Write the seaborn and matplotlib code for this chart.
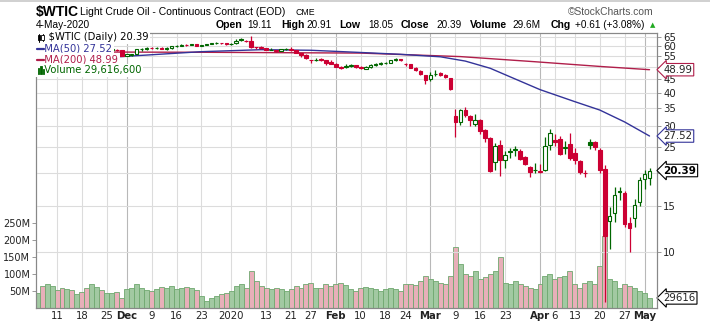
import numpy as np
import pandas as pd
import matplotlib
matplotlib.use("Agg")
import matplotlib.pyplot as plt
import seaborn as sns
from matplotlib.ticker import FixedLocator, FixedFormatter, NullLocator
from matplotlib.lines import Line2D
from matplotlib.patches import Rectangle

# ---------------- data ----------------
holidays = ["2019-11-28", "2019-12-25", "2020-01-01", "2020-01-20", "2020-02-17", "2020-04-10"]
dates = pd.bdate_range("2019-11-05", "2020-05-04")
dates = dates[~dates.isin(pd.to_datetime(holidays))]

opens = [56.55, 57.10, 56.30, 57.05, 57.19, 56.81, 56.76, 57.13, 56.85, 57.77,
         57.03, 55.35, 57.05, 58.54, 57.77, 58.05, 58.35, 58.25, 55.31, 55.88,
         56.20, 58.51, 58.40, 59.15, 59.04, 59.15, 58.68, 59.25, 60.11, 60.25,
         60.95, 60.93, 61.19, 60.45, 60.56, 61.24, 61.69, 61.84, 61.72, 61.18,
         61.60, 63.71, 62.91, 62.84, 59.72, 59.68, 59.00, 58.24, 58.20, 57.79,
         58.52, 58.83, 58.04, 56.55, 55.56, 53.35, 53.10, 53.58, 53.25, 52.20,
         51.46, 50.20, 49.94, 50.75, 50.87, 50.26, 49.45, 49.99, 51.10, 51.50,
         52.14, 52.10, 53.48, 53.69, 51.52, 51.50, 49.88, 48.36, 46.80, 45.28,
         47.19, 47.55, 46.82, 45.51, 32.87, 31.13, 34.50, 32.85, 30.57, 31.70,
         28.88, 27.09, 21.95, 25.43, 22.35, 24.10, 24.35, 24.12, 22.90, 21.04,
         20.51, 20.20, 20.44, 25.47, 26.62, 26.78, 24.75, 25.65, 23.76, 22.07,
         20.01, 26.10, 26.20, 24.40, 20.70, 13.10, 14.10, 17.10, 16.80, 12.90,
         13.50, 15.50, 18.90, 19.11]
highs = [57.88, 57.29, 57.70, 57.40, 57.24, 57.48, 57.31, 57.58, 57.89, 57.98,
         57.20, 57.37, 58.71, 58.78, 58.33, 58.62, 58.74, 58.30, 56.23, 56.31,
         58.76, 59.00, 59.85, 59.45, 59.43, 59.60, 59.57, 60.29, 60.57, 61.02,
         61.11, 61.44, 61.20, 60.73, 61.30, 61.82, 62.34, 62.01, 61.89, 61.60,
         64.09, 64.72, 63.15, 65.65, 59.84, 59.98, 59.10, 58.91, 58.36, 58.54,
         59.07, 59.74, 58.19, 56.73, 55.96, 53.51, 54.08, 54.12, 53.32, 53.18,
         51.98, 50.65, 51.40, 51.27, 51.13, 50.46, 50.59, 51.35, 51.80, 52.22,
         52.45, 53.48, 54.10, 53.80, 52.02, 51.69, 50.14, 48.66, 46.80, 47.87,
         48.66, 48.07, 47.14, 45.62, 34.88, 34.88, 35.29, 33.18, 33.33, 32.01,
         29.22, 27.17, 26.00, 26.58, 24.15, 24.85, 25.24, 24.55, 23.13, 21.15,
         21.70, 21.64, 27.39, 29.13, 27.98, 27.62, 26.45, 28.36, 24.74, 22.32,
         20.45, 26.90, 26.30, 24.90, 21.30, 14.90, 17.70, 17.60, 17.00, 13.60,
         15.90, 19.30, 20.40, 20.91]
lows = [56.30, 56.04, 55.80, 56.03, 56.20, 56.31, 56.32, 56.55, 56.66, 56.85,
        54.98, 55.20, 56.90, 57.50, 57.45, 57.70, 57.80, 55.00, 55.00, 55.05,
        56.10, 57.76, 58.05, 58.64, 58.55, 58.57, 58.39, 58.81, 59.86, 60.10,
        60.12, 60.62, 60.33, 60.20, 60.53, 61.10, 61.40, 61.47, 60.63, 60.73,
        61.13, 62.95, 62.34, 59.19, 58.71, 58.67, 57.92, 58.02, 57.36, 57.71,
        58.30, 57.84, 56.66, 54.80, 53.60, 52.13, 52.84, 52.93, 50.91, 51.32,
        49.95, 49.31, 49.87, 50.24, 49.92, 49.44, 49.31, 49.80, 50.57, 51.02,
        51.44, 51.90, 52.73, 52.66, 50.60, 49.69, 48.41, 46.75, 43.32, 44.28,
        46.20, 46.36, 45.52, 41.05, 27.34, 30.30, 32.46, 30.02, 30.04, 28.03,
        26.08, 20.06, 20.52, 19.46, 20.80, 22.71, 23.23, 22.40, 21.38, 19.27,
        19.90, 19.90, 20.25, 24.38, 25.28, 23.36, 23.59, 22.33, 21.62, 19.80,
        19.20, 24.60, 24.30, 20.00, 6.50, 10.30, 13.00, 15.80, 12.50, 10.07,
        12.50, 15.00, 17.30, 18.05]
closes = [57.23, 56.35, 57.15, 57.24, 56.86, 56.80, 57.12, 56.77, 57.72, 57.05,
          55.21, 57.11, 58.58, 57.77, 58.01, 58.41, 58.11, 55.17, 55.96, 56.10,
          58.43, 58.43, 59.20, 59.02, 59.24, 58.76, 59.18, 60.07, 60.21, 60.94,
          60.93, 61.22, 60.44, 60.52, 61.11, 61.68, 61.72, 61.68, 61.06, 61.18,
          63.05, 63.27, 62.70, 59.61, 59.56, 59.04, 58.08, 58.23, 57.81, 58.52,
          58.54, 58.34, 56.74, 55.59, 54.19, 53.14, 53.48, 53.33, 52.14, 51.56,
          50.11, 49.61, 50.75, 50.95, 50.32, 49.57, 49.94, 51.17, 51.42, 52.05,
          52.05, 53.29, 53.78, 53.38, 51.43, 49.90, 48.73, 47.09, 44.76, 46.75,
          47.18, 46.78, 45.90, 41.28, 31.13, 34.36, 32.98, 31.50, 31.73, 28.70,
          26.95, 20.37, 25.22, 22.43, 23.36, 24.01, 24.49, 22.60, 21.51, 20.09,
          20.48, 20.31, 25.32, 28.34, 26.08, 23.63, 25.09, 22.76, 22.41, 20.11,
          19.87, 25.53, 25.03, 20.43, 11.57, 13.78, 16.50, 16.94, 12.78, 12.34,
          15.06, 18.84, 19.78, 20.39]
volumes_m = [45, 64, 70, 64, 52, 60, 57, 52, 40, 46, 58, 70, 61, 52, 45, 45, 48, 30,
             55, 60, 70, 58, 52, 50, 55, 62, 60, 65, 55, 58, 62, 60, 52, 35, 20, 30, 35, 40, 45,
             50, 65, 70, 60, 110, 80, 65, 60, 55, 60, 55, 50, 55, 65, 60, 70, 75, 60, 58, 72, 65,
             70, 75, 68, 55, 50, 58, 62, 60, 55, 50, 55, 58, 55, 50, 72, 70, 68, 80, 95,
             85, 80, 75, 70, 95, 180, 130, 100, 95, 110, 85, 90, 100, 110, 150, 75, 70, 80, 70, 65, 60, 55,
             70, 95, 100, 85, 90, 95, 110, 70, 60, 75, 80, 70, 125, 212, 85, 80, 60, 70, 65, 60, 50, 45, 29.6]

ma50_idx = [0, 17, 33, 45, 55, 65, 73, 81, 86, 91, 96, 101, 108, 113, 118, 123]
ma50_val = [53.5, 54.9, 57.3, 58.3, 58.0, 56.9, 56.0, 54.8, 52.8, 49.6, 45.2, 41.2, 37.1, 34.5, 31.1, 27.52]
ma200_idx = [0, 33, 65, 85, 100, 113, 123]
ma200_val = [57.2, 57.0, 56.6, 54.9, 52.5, 50.4, 48.99]

tick_dates = ["2019-11-11", "2019-11-18", "2019-11-25", "2019-12-02", "2019-12-09", "2019-12-16",
              "2019-12-23", "2020-01-02", "2020-01-13", "2020-01-21", "2020-01-27", "2020-02-03",
              "2020-02-10", "2020-02-18", "2020-02-24", "2020-03-02", "2020-03-09", "2020-03-16",
              "2020-03-23", "2020-04-01", "2020-04-06", "2020-04-13", "2020-04-20", "2020-04-27",
              "2020-05-01"]
tick_labels = ["11", "18", "25", "Dec", "9", "16", "23", "2020", "13", "21", "27", "Feb",
               "10", "18", "24", "Mar", "9", "16", "23", "Apr", "6", "13", "20", "27", "May"]
price_ticks = [10, 15, 20, 25, 30, 35, 40, 45, 50, 55, 60, 65]
price_tick_labels = ["10", "15", "", "25", "30", "35", "40", "45", "", "55", "60", "65"]
vol_ticks = [50, 100, 150, 200, 250]
vol_tick_labels = ["50M", "100M", "150M", "200M", "250M"]

# ---------------- style ----------------
sns.set_theme(style="white")
plt.rcParams['font.family'] = ['DejaVu Sans']

RED = "#cc0033"
GREEN = "#006600"
BLUE = "#333399"
MA200C = "#b01e4a"
VGREEN, VGREEN_E = "#9ccf9c", "#6fa86f"
VPINK, VPINK_E = "#f2a5b3", "#d9808f"
GRID = "#dcdcdc"
GRID_M = "#b8b8b8"

W, H = 710, 324
fig = plt.figure(figsize=(W / 100, H / 100), dpi=100)
L, R, T, B = 36, 657, 33, 308
axv = fig.add_axes([L / W, 1 - B / H, (R - L) / W, (B - T) / H])
ax = axv.twinx()
ax.set_zorder(axv.get_zorder() + 1)
ax.patch.set_visible(False)
axv.set_facecolor("white")

n = len(closes)
x = np.arange(n)
df = pd.DataFrame({"i": x, "open": opens, "high": highs, "low": lows,
                   "close": closes, "vol": volumes_m})
prev = df["close"].shift(1).fillna(df["close"].iloc[0] - 0.1)
df["dir"] = np.where(df["close"] >= prev, "up", "down")

xlo, xhi = -0.22, 124.5
tick_idx = [int(np.where(dates == pd.Timestamp(d))[0][0]) for d in tick_dates]

# vertical grid lines (beneath everything)
for ti, lab in zip(tick_idx, tick_labels):
    month = not lab.isdigit()
    axv.axvline(ti, color=GRID_M if month else GRID, lw=0.8, zorder=0)

# volume bars
sns.barplot(data=df, x="i", y="vol", hue="dir", palette={"up": VGREEN, "down": VPINK},
            native_scale=True, width=1.0, dodge=False, legend=False, ax=axv,
            linewidth=0.6, edgecolor=VGREEN_E, zorder=2)
for p in axv.patches:
    fc = matplotlib.colors.to_hex(p.get_facecolor())
    p.set_edgecolor(VPINK_E if fc == VPINK else VGREEN_E)
axv.set_ylim(0, 809)
axv.set_xlim(xlo, xhi)
axv.yaxis.tick_left()
axv.yaxis.set_major_locator(FixedLocator(vol_ticks))
axv.yaxis.set_major_formatter(FixedFormatter(vol_tick_labels))
axv.tick_params(axis="y", which="both", left=True, length=3, width=0.6, color="#888888",
                labelsize=7, pad=1, labelcolor="#222222")
axv.set_xticks(tick_idx)
axv.set_xticklabels(tick_labels)
for t, lab in zip(axv.get_xticklabels(), tick_labels):
    if not lab.isdigit():
        t.set_fontweight("bold")
axv.tick_params(axis="x", length=0, labelsize=7.3, pad=2, labelcolor="#222222")
axv.set_xlabel("")
axv.set_ylabel("")

# price axis (log)
ax.set_yscale("log")
ax.set_ylim(6.17, 67.4)
ax.set_xlim(xlo, xhi)
for p in price_ticks:
    ax.axhline(p, color=GRID, lw=0.8, zorder=0)

# MA lines
sns.lineplot(x=ma200_idx, y=ma200_val, ax=ax, color=MA200C, lw=1.0, zorder=3)
sns.lineplot(x=ma50_idx, y=ma50_val, ax=ax, color=BLUE, lw=1.0, zorder=3)

# candlesticks
for i, r in df.iterrows():
    col = GREEN if r["dir"] == "up" else RED
    filled = r["close"] < r["open"]
    ax.vlines(i, r["low"], r["high"], color=col, lw=0.9, zorder=4)
    lo_b, hi_b = min(r["open"], r["close"]), max(r["open"], r["close"])
    ax.bar(i, hi_b - lo_b, bottom=lo_b, width=0.72, facecolor=col if filled else "white",
           edgecolor=col, linewidth=0.8, zorder=5)

ax.yaxis.tick_right()
ax.yaxis.set_major_locator(FixedLocator(price_ticks))
ax.yaxis.set_major_formatter(FixedFormatter(price_tick_labels))
ax.yaxis.set_minor_locator(NullLocator())
ax.tick_params(axis="y", which="major", right=True, length=3, width=0.6, color="#888888",
               labelsize=7.3, pad=1.5, labelcolor="#222222")
ax.set_ylabel("")
for a in (ax, axv):
    for s in a.spines.values():
        s.set_color("#888888")
        s.set_linewidth(0.8)

# value flags on the right
ytr = ax.get_yaxis_transform()
fx = 1.0105
ax.text(fx, ma200_val[-1], f"{ma200_val[-1]:.2f}", transform=ytr, va="center", ha="left", fontsize=7.3,
        color="#222222", bbox=dict(boxstyle="larrow,pad=0.12", fc="white", ec=MA200C, lw=0.8), zorder=10,
        clip_on=False)
ax.text(fx, ma50_val[-1], f"{ma50_val[-1]:.2f}", transform=ytr, va="center", ha="left", fontsize=7.3,
        color="#222222", bbox=dict(boxstyle="larrow,pad=0.12", fc="white", ec=BLUE, lw=0.8), zorder=10,
        clip_on=False)
ax.text(fx, closes[-1], f"{closes[-1]:.2f}", transform=ytr, va="center", ha="left", fontsize=7.5,
        fontweight="bold", color="black",
        bbox=dict(boxstyle="larrow,pad=0.12", fc="white", ec="black", lw=0.8), zorder=10, clip_on=False)
axv.text(fx, volumes_m[-1], "29616", transform=axv.get_yaxis_transform(), va="center", ha="left",
         fontsize=7.3, color="#222222",
         bbox=dict(boxstyle="larrow,pad=0.12", fc="white", ec="black", lw=0.8), zorder=10, clip_on=False)

# ---------------- header texts ----------------
def ftxt(px, py, s, **kw):
    fig.text(px / W, 1 - py / H, s, va="center", ha="left", **kw)

HF = ["Liberation Sans", "DejaVu Sans"]
ftxt(36, 12, "$WTIC", fontsize=10, fontweight="bold", family=HF, color="black")
ftxt(80, 12, "Light Crude Oil - Continuous Contract (EOD)", fontsize=7.5, family=HF, color="black")
ftxt(296, 12.5, "CME", fontsize=6.3, family=HF, color="black")
ftxt(568, 12, "\u00a9StockCharts.com", fontsize=7.4, family=HF, color="#555555")
ftxt(36, 25, "4-May-2020", fontsize=7.3, family=HF, color="black")
hdr = [(216, "Open", True), (247, "19.11", False), (281, "High", True), (306, "20.91", False),
       (339, "Low", True), (368, "18.05", False), (401, "Close", True), (436, "20.39", False),
       (470, "Volume", True), (512, "29.6M", False), (551, "Chg", True), (575, "+0.61 (+3.08%)", False)]
for px, s, b in hdr:
    ftxt(px, 25, s, fontsize=7.6 if b else 7.2, fontweight="bold" if b else "normal", family=HF,
         color="black")
ftxt(650, 25.5, "\u25b2", fontsize=5, color="#22aa22", family=["DejaVu Sans"])

# ---------------- in-chart legend ----------------
LF = 7.2
bb = dict(boxstyle="square,pad=0.12", fc="white", ec="none")
ftxt(36.5, 37.5, "    $WTIC (Daily) 20.39", fontsize=LF, color="black", bbox=bb, zorder=20)
ftxt(36.5, 48.5, "  \u2009MA(50) 27.52", fontsize=LF, color=BLUE, bbox=bb, zorder=20)
ftxt(36.5, 59.5, "  \u2009MA(200) 48.99", fontsize=LF, color=MA200C, bbox=bb, zorder=20)
ftxt(36.5, 70.5, "  \u2009Volume 29,616,600", fontsize=LF, color=GREEN, bbox=bb, zorder=20)

def fline(x0, y0, x1, y1, c, lw):
    fig.add_artist(Line2D([x0 / W, x1 / W], [1 - y0 / H, 1 - y1 / H], color=c, lw=lw, zorder=25))

def frect(x0, y0, w, h, fc, ec):
    fig.add_artist(Rectangle((x0 / W, 1 - (y0 + h) / H), w / W, h / H, fc=fc, ec=ec, lw=0.6, zorder=25))

# candle icon
fline(39, 33.5, 39, 41.5, "black", 0.7)
frect(38, 35, 2.2, 4.5, "black", "black")
fline(42.5, 34, 42.5, 41, "black", 0.7)
frect(41.4, 35.5, 2.2, 4, "white", "black")
fline(37, 48.5, 44, 48.5, BLUE, 1.6)
fline(37, 59.5, 44, 59.5, MA200C, 1.6)
frect(37.5, 68, 1.6, 6, GREEN, GREEN)
frect(40, 66, 1.6, 8, GREEN, GREEN)
frect(42.5, 69, 1.6, 5, GREEN, GREEN)

fline(0, 0.6, W, 0.6, "#c8c8c8", 1.2)

fig.savefig("out.png", dpi=100)
